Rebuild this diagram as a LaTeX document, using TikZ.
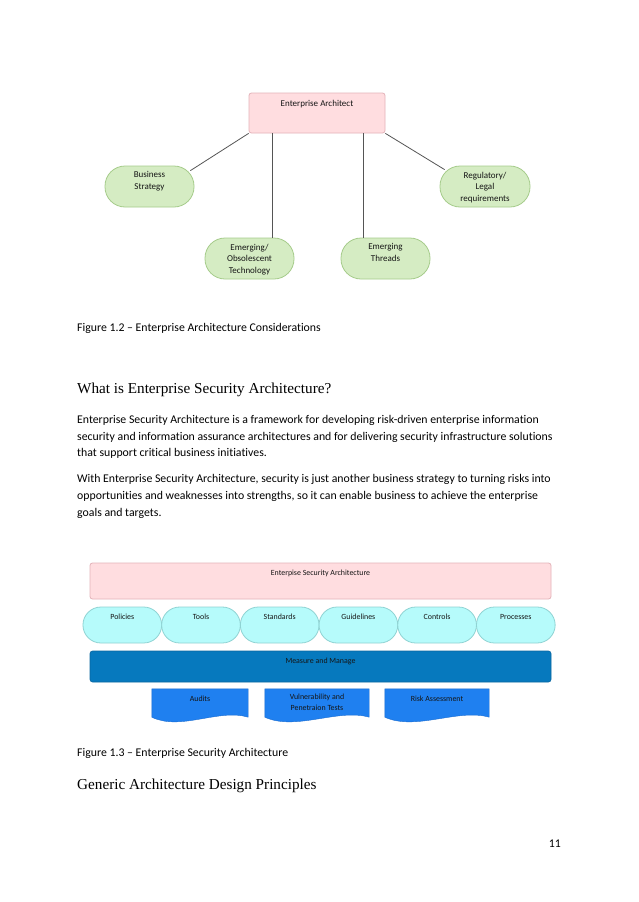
\documentclass[tikz,border=0pt]{standalone}
\usepackage{fontspec}
\setmainfont{Carlito}[Ligatures=NoCommon]
\newfontfamily\headfont{Liberation Serif}
\usetikzlibrary{positioning,calc}

\definecolor{eapink}{HTML}{FFDDE0}
\definecolor{eapinkline}{HTML}{E3B3B9}
\definecolor{eagreen}{HTML}{D5ECC3}
\definecolor{eagreenline}{HTML}{A6CC8B}
\definecolor{eacyan}{HTML}{B6FBFB}
\definecolor{eacyanline}{HTML}{8FD3D3}
\definecolor{eadeep}{HTML}{0679BE}
\definecolor{eadeepline}{HTML}{0A66A0}
\definecolor{eablue}{HTML}{1F80F0}
\definecolor{eablueline}{HTML}{1A6CD0}
\definecolor{eatext}{HTML}{151515}
\definecolor{ealink}{HTML}{555555}

\tikzset{
  bodytext/.style={anchor=base west, inner sep=0pt, text=black,
    font=\fontsize{11.8}{14}\selectfont},
  headtext/.style={anchor=base west, inner sep=0pt, text=black,
    font=\headfont\fontsize{15.2}{18}\selectfont},
  toptext/.style={label={[anchor=north, inner sep=0pt, yshift=-6pt, align=center,
    text=eatext, font=\fontsize{9}{11.6}\selectfont, execute at begin node=\strut]north:#1}},
  smalltop/.style={label={[anchor=north, inner sep=0pt, yshift=-5.5pt, align=center,
    text=eatext, font=\fontsize{7.9}{10.2}\selectfont, execute at begin node=\strut]north:#1}},
  pinkbox/.style={draw=eapinkline, fill=eapink, rounded corners=2.5pt, line width=0.8pt},
  greenpill/.style={draw=eagreenline, fill=eagreen, rounded corners=20pt,
    minimum width=89, minimum height=41, line width=0.8pt},
  cyanpill/.style={draw=eacyanline, fill=eacyan, rounded corners=18pt,
    minimum width=78.7, minimum height=36, line width=0.8pt},
  deepbox/.style={draw=eadeepline, fill=eadeep, rounded corners=2.5pt, line width=0.6pt},
  docnode/.style={minimum height=28, inner sep=0pt},
  link/.style={draw=ealink, line width=0.8pt},
}

\begin{document}
\begin{tikzpicture}[x=1pt, y=-1pt]
  \fill[white] (0,0) rectangle (638,902);
  \useasboundingbox (0,0) rectangle (638,902);

  % Figure 1.2
  \node[pinkbox, minimum width=136, minimum height=40, toptext=Enterprise Architect] (arch) at (317,113) {};
  \node[greenpill, toptext={Business\\Strategy}] (biz) at (149.5,186.5) {};
  \node[greenpill, minimum width=90, toptext={Regulatory/\\Legal\\requirements}] (reg) at (485,186.5) {};
  \node[greenpill, toptext={Emerging/\\Obsolescent\\Technology}] (tech) at (249.5,258.5) {};
  \node[greenpill, toptext={Emerging\\Threads}] (threat) at (385.5,258.5) {};

  \draw[link] (arch.south west) -- ([xshift=-4pt,yshift=-5pt]biz.north east);
  \draw[link] ([xshift=22.5pt]tech.north) -- ([xshift=22.5pt]tech.north |- arch.south);
  \draw[link] ([xshift=-22pt]threat.north) -- ([xshift=-22pt]threat.north |- arch.south);
  \draw[link] (arch.south east) -- ([xshift=5pt,yshift=-4pt]reg.north west);

  \node[bodytext] (cap1) at (77,331) {Figure 1.2 – Enterprise Architecture Considerations};

  % text
  \node[headtext] (head1) at (77,393) {What is Enterprise Security Architecture?};
  \node[bodytext] (l1) at (77,423) {Enterprise Security Architecture is a framework for developing risk-driven enterprise information};
  \node[bodytext] (l2) at (77,440) {security and information assurance architectures and for delivering security infrastructure solutions};
  \node[bodytext] (l3) at (77,456) {that support critical business initiatives.};
  \node[bodytext] (l4) at (77,482) {With Enterprise Security Architecture, security is just another business strategy to turning risks into};
  \node[bodytext] (l5) at (77,499) {opportunities and weaknesses into strengths, so it can enable business to achieve the enterprise};
  \node[bodytext] (l6) at (77,516) {goals and targets.};

  % Figure 1.3
  \node[pinkbox, minimum width=461, minimum height=36, smalltop=Enterpise Security Architecture] (esa) at (320.5,581) {};
  \foreach \name [count=\i] in {Policies,Tools,Standards,Guidelines,Controls,Processes}
    \node[cyanpill, smalltop=\name] (part\i) at ({122.3+78.7*(\i-1)},625) {};
  \node[deepbox, minimum width=461, minimum height=31, smalltop=Measure and Manage] (manage) at (320.5,666.5) {};

  \foreach \id/\cx/\w/\txt in {audit/200/96/Audits,
      vuln/317/104/{Vulnerability and\\Penetraion Tests},
      risk/437/104/Risk Assessment} {
    \node[docnode, minimum width=\w] (\id) at (\cx,703) {};
    \fill[eablue, draw=eablueline, line width=0.4pt]
      (\id.north west) -- (\id.north east) -- (\id.south east)
      .. controls +(-0.3*\w,-9) and +(0.3*\w,14) .. (\id.south west) -- cycle;
    \node[docnode, minimum width=\w, smalltop={\txt}] at (\id) {};
  }

  \node[bodytext] (cap2) at (77,756) {Figure 1.3 – Enterprise Security Architecture};
  \node[headtext] (head2) at (77,789) {Generic Architecture Design Principles};
  \node[bodytext, anchor=base east] (pageno) at (561,847) {11};
\end{tikzpicture}
\end{document}
